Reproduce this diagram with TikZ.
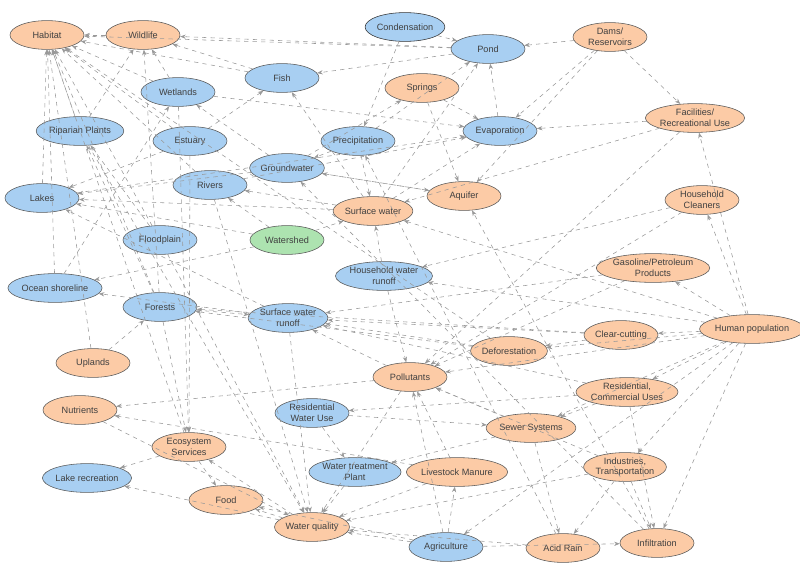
\documentclass[tikz,border=0pt]{standalone}
\usepackage{fontspec}
\setmainfont{Liberation Sans}
\usetikzlibrary{arrows.meta,shapes.geometric}
\definecolor{peach}{HTML}{FCCBA6}
\definecolor{sky}{HTML}{A8CFF2}
\definecolor{mint}{HTML}{ADE3B0}
\begin{document}
\begin{tikzpicture}[
    x=0.025cm, y=-0.025cm,
    box/.style={ellipse, draw=gray!70!black, minimum width=1.85cm, minimum height=0.72cm, inner sep=0pt, align=center, text=black!75, font=\fontsize{6.5}{7.5}\selectfont},
    org/.style={box, fill=peach},
    blu/.style={box, fill=sky},
    grn/.style={box, fill=mint},
    link/.style={-{Stealth[length=4pt,width=3pt]}, gray!80, dashed, thin}
]
    \useasboundingbox (0,0) rectangle (800,571);
    % Nodes
    \node[org] (hab) at (47,35) {Habitat};
    \node[org] (wil) at (143,35) {Wildlife};
    \node[blu, draw=black!80] (con) at (405,27) {Condensation};
    \node[blu] (pond) at (488,49) {Pond};
    \node[org] (dam) at (610,37) {Dams/\\Reservoirs};
    \node[blu] (fish) at (282,78) {Fish};
    \node[blu] (wet) at (178,92) {Wetlands};
    \node[org] (spr) at (422,88) {Springs};
    \node[blu] (rip) at (80,131) {Riparian Plants};
    \node[blu] (est) at (190,141) {Estuary};
    \node[blu] (pre) at (358,141) {Precipitation};
    \node[blu] (eva) at (500,131) {Evaporation};
    \node[org, minimum width=2cm] (fac) at (695,118) {Facilities/\\Recreational Use};
    \node[blu] (gw) at (287,168) {Groundwater};
    \node[blu] (riv) at (210,185) {Rivers};
    \node[blu] (lak) at (42,198) {Lakes};
    \node[org] (sw) at (373,211) {Surface water};
    \node[org] (aq) at (464,196) {Aquifer};
    \node[org] (hc) at (702,200) {Household\\Cleaners};
    \node[blu] (fld) at (160,240) {Floodplain};
    \node[grn] (ws) at (287,240) {Watershed};
    \node[blu] (hwr) at (384,276) {Household water\\runoff};
    \node[org, minimum width=2cm] (gas) at (653,268) {Gasoline/Petroleum\\Products};
    \node[blu] (oce) at (55,288) {Ocean shoreline};
    \node[blu] (for) at (160,307) {Forests};
    \node[blu] (swr) at (288,318) {Surface water\\runoff};
    \node[org] (cc) at (621,335) {Clear-cutting};
    \node[org, minimum width=1.8cm] (hum) at (752,329) {Human population};
    \node[org] (def) at (509,351) {Deforestation};
    \node[org] (upl) at (93,363) {Uplands};
    \node[org] (pol) at (410,377) {Pollutants};
    \node[org, minimum width=2cm] (rcu) at (627,392) {Residential,\\Commercial Uses};
    \node[org] (nut) at (80,410) {Nutrients};
    \node[blu] (rwu) at (312,413) {Residential\\Water Use};
    \node[org] (sew) at (531,428) {Sewer Systems};
    \node[org] (eco) at (189,447) {Ecosystem\\Services};
    \node[blu] (wtp) at (355,472) {Water treatment\\Plant};
    \node[org] (liv) at (457,472) {Livestock Manure};
    \node[org] (ind) at (625,467) {Industries,\\Transportation};
    \node[blu] (lr) at (87,478) {Lake recreation};
    \node[org] (food) at (226,500) {Food};
    \node[org] (wq) at (312,527) {Water quality};
    \node[blu] (agr) at (446,547) {Agriculture};
    \node[org] (ar) at (563,548) {Acid Rain};
    \node[org] (inf) at (657,543) {Infiltration};
    % Links
    \foreach \a/\b in {wil/hab, fish/hab, fish/wil, pond/wil, pond/hab, pond/fish,
        con/pre, con/pond, dam/pond, dam/eva, dam/fac, dam/aq, wet/hab, wet/wil,
        wet/eva, rip/hab, rip/wil, est/hab, est/fish, est/lak, riv/hab, riv/eva,
        lak/hab, lak/eva, fld/hab, fld/rip, oce/hab, oce/wet, for/hab, for/wil,
        for/rip, pre/pond, pre/sw, pre/gw, spr/eva, eva/pond, gw/spr, gw/aq,
        gw/wet, gw/lak, sw/riv, sw/lak, sw/pond, sw/eva, sw/fish, aq/gw, ws/riv,
        ws/lak, ws/sw, ws/oce, hwr/sw, hwr/pol, hc/hwr, hc/pol, gas/pol, gas/swr,
        fac/pol, fac/sw, fac/eva, hum/fac, hum/hc, hum/gas, hum/cc, hum/def,
        hum/rcu, hum/ind, hum/sew, hum/inf, hum/sw, hum/hwr, hum/pol, cc/for,
        cc/swr, def/for, def/swr, rcu/sew, rcu/swr, rcu/rwu, rcu/inf, sew/wtp,
        sew/pol, ind/ar, ind/pol, ind/inf, ind/wq, pol/wq, pol/swr, pol/nut,
        swr/wq, swr/oce, swr/lak, for/swr, upl/for, upl/hab, nut/wq, rwu/wtp,
        rwu/sew, wtp/wq, liv/pol, liv/wq, liv/nut, agr/liv, agr/wq, agr/food,
        agr/pol, ar/wq, ar/pre, inf/gw, inf/aq, eco/food, eco/lr, eco/hab,
        for/eco, wet/eco, wq/lr, wq/food, wq/eco, fld/wq, est/eco, rip/wq,
        riv/wq, spr/aq, def/hab, sew/ar, agr/inf, hum/agr, cc/def}
        \draw[link] (\a) -- (\b);
\end{tikzpicture}
\end{document}
